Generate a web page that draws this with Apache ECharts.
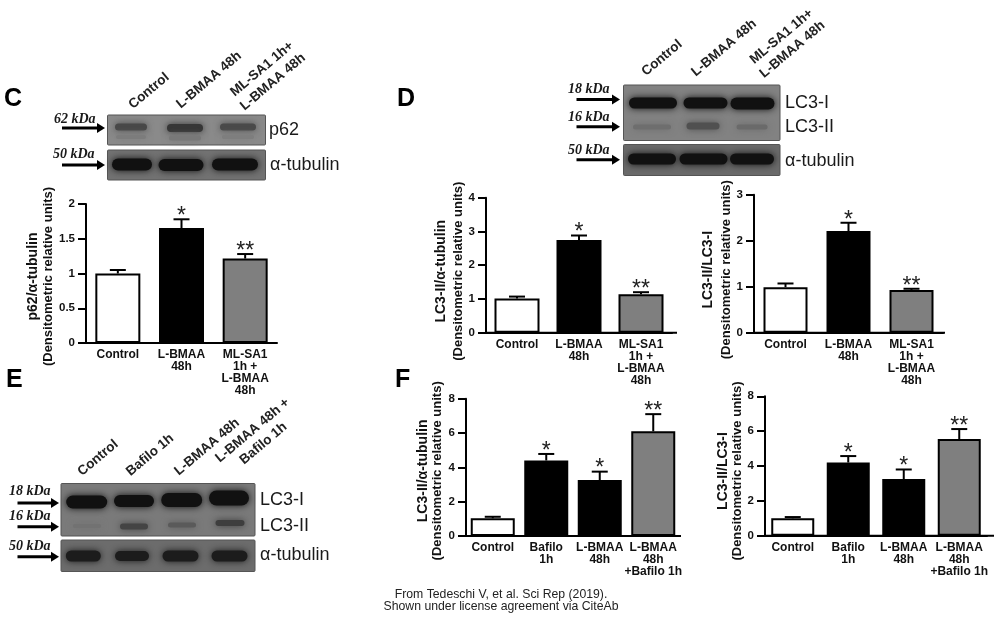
<!DOCTYPE html>
<html><head><meta charset="utf-8">
<style>html,body{margin:0;padding:0;background:#fff}#c{width:1002px;height:618px}</style>
<script src="https://cdn.jsdelivr.net/npm/echarts@6/dist/echarts.min.js"></script>
</head><body><div id="c"></div>
<script>
// Categories
const categoriesThree = ['Control', 'L-BMAA\n48h', 'ML-SA1\n1h +\nL-BMAA\n48h'];
const categoriesFour = ['Control', 'Bafilo\n1h', 'L-BMAA\n48h', 'L-BMAA\n48h\n+Bafilo 1h'];
// Bar means and upper error limits
const valuesC = [1.0, 1.655, 1.215];
const errorTopC = [1.05, 1.78, 1.28];
const valuesD1 = [1.01, 2.75, 1.14];
const errorTopD1 = [1.07, 2.88, 1.2];
const valuesD2 = [0.99, 2.21, 0.93];
const errorTopD2 = [1.07, 2.39, 0.955];
const valuesF1 = [1.03, 4.4, 3.26, 6.1];
const errorTopF1 = [1.12, 4.78, 3.75, 7.1];
const valuesF2 = [1.0, 4.2, 3.25, 5.55];
const errorTopF2 = [1.07, 4.57, 3.8, 6.12];
// Significance marks
const starsThree = ['', '*', '**'];
const starsFour = ['', '*', '*', '**'];
// Y-axis titles
const unitsTitle = '(Densitometric relative units)';
const yTitleC = 'p62/α-tubulin';
const yTitleD1 = 'LC3-II/α-tubulin';
const yTitleD2 = 'LC3-II/LC3-I';
const yTitleF1 = 'LC3-II/α-tubulin';
const yTitleF2 = 'LC3-II/LC3-I';

const SANS = '"Liberation Sans", Arial, sans-serif';
const panels = [
  {cats: categoriesThree, v: valuesC, e: errorTopC, s: starsThree, t: yTitleC, left: 86, top: 204, w: 191, h: 139, max: 2, int: 0.5, bar: 45, gap: 24, lh: 15, pad: [0, 6, 0, 0], end: 277},
  {cats: categoriesThree, v: valuesD1, e: errorTopD1, s: starsThree, t: yTitleD1, left: 486, top: 197.7, w: 186, h: 135, max: 4, int: 1, bar: 45, gap: 19, lh: 17, pad: [0, 12, 0, 0], end: 677},
  {cats: categoriesThree, v: valuesD2, e: errorTopD2, s: starsThree, t: yTitleD2, left: 754, top: 194.7, w: 189, h: 138, max: 3, int: 1, bar: 44, gap: 16, lh: 18, pad: [0, 12, 0, 0], end: 945},
  {cats: categoriesFour, v: valuesF1, e: errorTopF1, s: starsFour, t: yTitleF1, left: 466, top: 398.7, w: 214, h: 137.3, max: 8, int: 2, bar: 44, gap: 21, lh: 14.5, pad: [0, 7, 0, 0], end: 681},
  {cats: categoriesFour, v: valuesF2, e: errorTopF2, s: starsFour, t: yTitleF2, left: 765, top: 396.3, w: 222, h: 139.4, max: 8, int: 2, bar: 43, gap: 18, lh: 14.5, pad: [0, 10, 0, 0], end: 994}
];
const barFill = (n, i) => i === 0 ? '#ffffff' : (i === n - 1 ? '#7f7f7f' : '#000000');

const grid = [], xAxis = [], yAxis = [], series = [], graphic = [];
panels.forEach((p, k) => {
  grid.push({left: p.left, top: p.top, width: p.w, height: p.h, containLabel: false});
  xAxis.push({type: 'category', gridIndex: k, data: p.cats, boundaryGap: true,
    axisLine: {lineStyle: {color: '#000', width: 2}}, axisTick: {show: false},
    axisLabel: {interval: 0, margin: 6, color: '#111', fontFamily: SANS, fontWeight: 'bold', fontSize: 12, lineHeight: 12}});
  yAxis.push({type: 'value', gridIndex: k, min: 0, max: p.max, interval: p.int, splitLine: {show: false},
    axisLine: {show: true, lineStyle: {color: '#000', width: 2}},
    axisTick: {show: true, length: 8, lineStyle: {color: '#000', width: 2}},
    axisLabel: {margin: 11, color: '#111', fontFamily: SANS, fontWeight: 'bold', fontSize: 11.5},
    name: '{a|' + p.t + '}\n{b|' + unitsTitle + '}', nameLocation: 'middle', nameRotate: 90, nameGap: p.gap,
    nameTextStyle: {color: '#111', fontFamily: SANS, fontWeight: 'bold', padding: p.pad, rich: {
      a: {fontFamily: SANS, fontWeight: 'bold', fontSize: 14, lineHeight: p.lh, color: '#111'},
      b: {fontFamily: SANS, fontWeight: 'bold', fontSize: 13, lineHeight: p.lh, color: '#111'}}}});
  series.push({type: 'bar', xAxisIndex: k, yAxisIndex: k, barWidth: p.bar, silent: true, z: 3,
    data: p.v.map((y, i) => ({value: y, itemStyle: {color: barFill(p.v.length, i), borderColor: '#000', borderWidth: 2}}))});
  series.push({type: 'custom', xAxisIndex: k, yAxisIndex: k, silent: true, z: 2, clip: false,
    data: p.v.map((y, i) => [i, y, p.e[i], p.s[i]]),
    encode: {x: 0, y: [1, 2]},
    renderItem: (params, api) => {
      const a = api.coord([api.value(0), api.value(1)]);
      const b = api.coord([api.value(0), api.value(2)]);
      const st = {stroke: '#000', lineWidth: 2};
      const kids = [
        {type: 'line', shape: {x1: a[0], y1: a[1], x2: b[0], y2: b[1]}, style: st},
        {type: 'line', shape: {x1: a[0] - 8, y1: b[1], x2: a[0] + 8, y2: b[1]}, style: st}
      ];
      const star = p.s[api.value(0)];
      if (star) kids.push({type: 'text', style: {text: star, x: a[0], y: b[1] - 2.5, align: 'center', verticalAlign: 'middle',
        font: '23px ' + SANS, fill: '#222'}});
      return {type: 'group', children: kids};
    }});
  graphic.push({type: 'rect', shape: {x: p.left, y: p.top + p.h - 1, width: p.end - p.left, height: 2}, style: {fill: '#000'}, z: 1});
});

// ---- Blot panels
function text(t, x, y, font, extra) {
  graphic.push({type: 'text', x, y, rotation: (extra && extra.rot) || 0, z: 20,
    style: Object.assign({text: t, font, fill: (extra && extra.fill) || '#1a1a1a',
      textAlign: (extra && extra.align) || 'left', textVerticalAlign: 'middle', lineHeight: (extra && extra.lh) || undefined})});
}
function box(x, y, w, h, fill) {
  graphic.push({type: 'rect', shape: {x, y, width: w, height: h, r: 1}, z: 10,
    style: {fill, stroke: '#555', lineWidth: 1}});
}
function band(cx, cy, w, h, col) {
  const ih = h >= 10 ? h - 2 : h;
  graphic.push({type: 'rect', shape: {x: cx - w / 2 + 1, y: cy - ih / 2, width: w - 2, height: ih, r: ih / 2}, z: 11,
    style: {fill: col, shadowColor: col, shadowBlur: 7}});
}
function arrow(x0, x1, y) {
  graphic.push({type: 'rect', shape: {x: x0, y: y - 1.5, width: x1 - x0 - 6, height: 3}, style: {fill: '#000'}, z: 12});
  graphic.push({type: 'polygon', shape: {points: [[x1 - 8, y - 5], [x1, y], [x1 - 8, y + 5]]}, style: {fill: '#000'}, z: 12});
}
const KDA = 'italic bold 14px "Liberation Serif", serif';
const BIG = '18px ' + SANS;
const LANE = 'bold 13.5px ' + SANS;
const ROT = 40 * Math.PI / 180;
const lane = (t, x, y) => text(t, x, y, LANE, {rot: ROT, align: 'center', lh: 17, fill: '#222'});
const DARK = '#111';

// Panel C
box(107.5, 115, 158, 30, '#8a8a8a');
box(107.5, 150, 158, 30, '#727272');
band(131, 127, 34, 7, '#484848'); band(185, 128, 38, 8, '#363636'); band(238, 127, 38, 7, '#4a4a4a');
band(131, 137, 32, 4, '#7c7c7c'); band(185, 138, 34, 5, '#787878'); band(238, 137, 34, 4, '#7e7e7e');
band(132, 164.5, 42, 14, DARK); band(181, 165, 47, 14, DARK); band(235, 164.5, 48, 14, DARK);
arrow(62, 105, 128); arrow(62, 105, 165);
text('62 kDa', 54, 119, KDA); text('50 kDa', 53, 154, KDA);
text('p62', 269, 130, BIG); text('α-tubulin', 270, 165, BIG);
lane('Control', 149, 91); lane('L-BMAA 48h', 209, 80); lane('ML-SA1 1h+\nL-BMAA 48h', 267.5, 75.5);

// Panel D
box(623.5, 85, 156.5, 55.5, '#828282');
box(623.5, 144.5, 156.5, 31, '#6a6a6a');
band(653, 103, 50, 13, DARK); band(705.5, 103, 46, 13, DARK); band(752.5, 103.5, 46, 14, DARK);
band(652, 127, 40, 5, '#6e6e6e'); band(703, 126, 35, 7, '#505050'); band(752, 127, 33, 5, '#6a6a6a');
band(652, 159, 50, 13, DARK); band(703.5, 159, 50, 13, DARK); band(752, 159, 46, 13, DARK);
arrow(576.5, 620, 99.5); arrow(576.5, 620, 126.7); arrow(576.5, 620, 159.7);
text('18 kDa', 568, 89, KDA); text('16 kDa', 568, 117, KDA); text('50 kDa', 568, 150, KDA);
text('LC3-I', 785, 103, BIG); text('LC3-II', 785, 127.5, BIG); text('α-tubulin', 785, 161, BIG);
lane('Control', 662, 58); lane('L-BMAA 48h', 724, 48); lane('ML-SA1 1h+\nL-BMAA 48h', 787, 43);

// Panel E
box(61, 483.5, 194, 52.5, '#7a7a7a');
box(61, 540, 194, 31.5, '#6c6c6c');
band(86.7, 502, 43, 15, DARK); band(134, 501, 42, 14, DARK); band(181.7, 500, 43, 16, DARK); band(229, 498, 42, 17, DARK);
band(87, 526, 30, 4, '#727272'); band(134, 526.5, 30, 6, '#444'); band(182, 525, 30, 5, '#5a5a5a'); band(230, 523, 31, 6, '#3e3e3e');
band(83.3, 556, 37, 13, '#1c1c1c'); band(132, 556, 36, 12, '#1c1c1c'); band(180.5, 556, 38, 13, '#1c1c1c'); band(229.5, 556, 38, 13, '#1c1c1c');
arrow(17.5, 59, 503); arrow(17.5, 59, 526.7); arrow(17.5, 59, 556.7);
text('18 kDa', 9, 491.5, KDA); text('16 kDa', 9, 516, KDA); text('50 kDa', 9, 546, KDA);
text('LC3-I', 260, 500.5, BIG); text('LC3-II', 260, 526, BIG); text('α-tubulin', 260, 555, BIG);
lane('Control', 98, 458); lane('Bafilo 1h', 150, 455); lane('L-BMAA 48h', 207, 447); lane('L-BMAA 48h +\nBafilo 1h', 258, 437);

// Panel letters
const LET = 'bold 25px ' + SANS;
text('C', 4, 99, LET, {fill: '#000'}); text('D', 397, 99, LET, {fill: '#000'});
text('E', 6, 380, LET, {fill: '#000'}); text('F', 395, 380, LET, {fill: '#000'});

// Citation
text('From Tedeschi V, et al. Sci Rep (2019).', 501, 594.5, '12.25px ' + SANS, {align: 'center', fill: '#222'});
text('Shown under license agreement via CiteAb', 501, 606.5, '12.25px ' + SANS, {align: 'center', fill: '#222'});

const chart = echarts.init(document.getElementById('c'), null, {renderer: 'canvas'});
chart.setOption({animation: false, backgroundColor: '#fff', grid, xAxis, yAxis, series, graphic: {elements: graphic}});
</script></body></html>
